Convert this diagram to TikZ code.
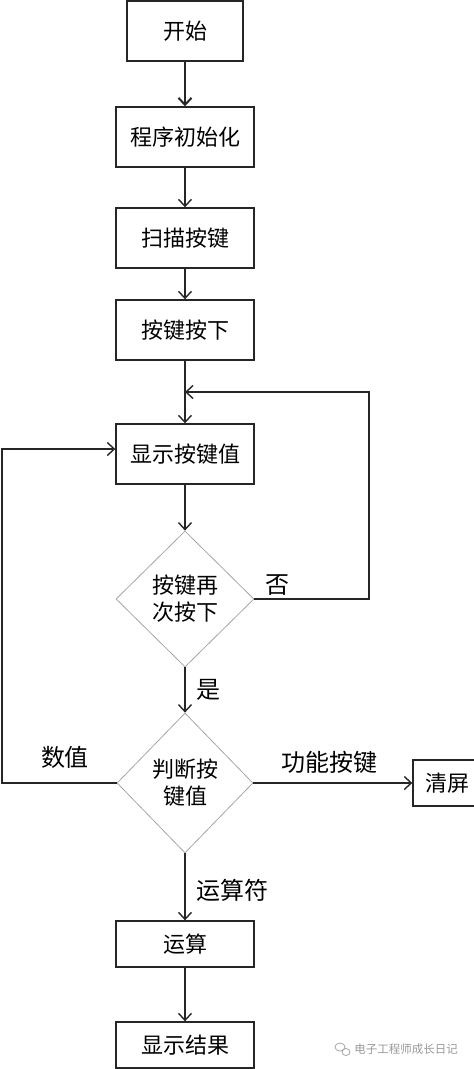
\documentclass[tikz,border=0pt]{standalone}
\usepackage{fontspec}
\newfontfamily\cjk{Noto Sans CJK SC}
\usetikzlibrary{arrows.meta,shapes.geometric}
\tikzset{
  stepbox/.style={rectangle,draw=black!85,line width=1.4pt,
    minimum width=138pt,minimum height=60pt,inner sep=0pt,
    font=\cjk\fontsize{22}{27}\selectfont},
  testnode/.style={diamond,draw=black!35,line width=0.8pt,
    minimum width=138pt,minimum height=136pt,inner sep=0pt,align=center,
    font=\cjk\fontsize{22}{27}\selectfont},
  flowedge/.style={line width=1.4pt,black!85,
    -{Straight Barb[length=7pt,width=13pt]}},
  edgelabel/.style={inner sep=0pt,font=\cjk\fontsize{24}{28}\selectfont},
  marknode/.style={inner sep=0pt,text=black!40,font=\cjk\fontsize{11.5}{13}\selectfont}
}

\begin{document}
\begin{tikzpicture}[x=1pt,y=-1pt]
  \useasboundingbox (0,0) rectangle (474,1069);

  \node[stepbox,minimum width=116pt,minimum height=60pt] (start) at (185,31) {开始};
  \node[stepbox] (init) at (185,137) {程序初始化};
  \node[stepbox] (scan) at (185,238) {扫描按键};
  \node[stepbox] (press) at (185,330) {按键按下};
  \node[stepbox] (show) at (185,454) {显示按键值};
  \node[testnode] (again) at (185,599) {按键再\\次按下};
  \node[testnode,minimum width=136pt,minimum height=140pt] (judge) at (185,783) {判断按\\键值};
  \node[stepbox,minimum width=68pt,minimum height=46pt] (clear) at (447,783) {清屏};
  \node[stepbox,minimum height=46pt] (calc) at (185,944) {运算};
  \node[stepbox,minimum height=46pt] (result) at (185,1045) {显示结果};

  \coordinate (merge) at (185,392);
  \coordinate (backR) at (369,599);
  \coordinate (backT) at (369,392);
  \coordinate (backL) at (2,783);
  \coordinate (backU) at (2,449);

  \draw[flowedge,line width=2pt] (start) -- (init);
  \draw[flowedge] (init) -- (scan);
  \draw[flowedge] (scan) -- (press);
  \draw[flowedge] (press) -- (show);
  \draw[flowedge] (show) -- (again);
  \draw[flowedge] (again.east) -- (backR) -- (backT) -- (merge);
  \draw[flowedge] (again) -- (judge);
  \draw[flowedge] (judge.west) -- (backL) -- (backU) -- (show.west |- backU);
  \draw[flowedge] (judge.east) -- (clear);
  \draw[flowedge] (judge) -- (calc);
  \draw[flowedge] (calc) -- (result);

  \node[edgelabel] (no) at (277,585) {否};
  \node[edgelabel] (yes) at (208,690) {是};
  \node[edgelabel] (num) at (65,757) {数值};
  \node[edgelabel] (func) at (329,762) {功能按键};
  \node[edgelabel] (oper) at (232,890) {运算符};

  % watermark
  \draw[black!35,line width=0.8pt] (340,1047) ellipse (5pt and 4pt);
  \draw[black!35,line width=0.8pt] (346,1052) ellipse (4pt and 3.5pt);
  \node[marknode] (mark) at (406,1049) {电子工程师成长日记};
\end{tikzpicture}
\end{document}
